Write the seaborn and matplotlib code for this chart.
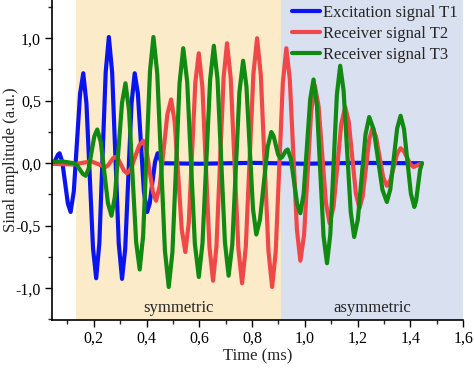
"""Excitation vs receiver signals (tone bursts)."""

import matplotlib

matplotlib.use("Agg")
import matplotlib.pyplot as plt
import pandas as pd
import seaborn as sns
from matplotlib.ticker import FuncFormatter, MultipleLocator

# Excitation signal T1 (peaks, flanks, then flat)
t1_time = [0.045, 0.051, 0.064, 0.070, 0.0805, 0.1015, 0.112, 0.124, 0.148,
           0.160, 0.172, 0.197, 0.209, 0.221, 0.245, 0.257, 0.2695, 0.2945,
           0.307, 0.319, 0.343, 0.355, 0.367, 0.390, 0.402, 0.412, 0.432,
           0.442, 0.446, 0.455, 0.459, 0.60, 0.80, 1.00, 1.20, 1.444]
t1_amp = [0.0, 0.012, 0.068, 0.08, 0.011, -0.321, -0.39, -0.228, 0.558,
          0.72, 0.481, -0.681, -0.92, -0.638, 0.728, 1.01, 0.727, -0.642,
          -0.925, -0.685, 0.480, 0.72, 0.558, -0.228, -0.39, -0.321, 0.011,
          0.08, 0.068, 0.012, 0.0, -0.004, 0.003, -0.004, 0.003, 0.0]

# Receiver signal T2
t2_time = [0.045, 0.120, 0.190, 0.244, 0.2535, 0.2725, 0.282, 0.293, 0.315,
           0.326, 0.341, 0.372, 0.387, 0.399, 0.424, 0.436, 0.450, 0.479,
           0.493, 0.5065, 0.5335, 0.547, 0.560, 0.585, 0.598, 0.6115, 0.6385,
           0.652, 0.665, 0.692, 0.705, 0.719, 0.748, 0.762, 0.776, 0.805,
           0.819, 0.833, 0.862, 0.876, 0.8895, 0.9165, 0.930, 0.943, 0.970,
           0.983, 0.997, 1.024, 1.038, 1.052, 1.080, 1.094, 1.109, 1.138,
           1.153, 1.1665, 1.1935, 1.207, 1.219, 1.244, 1.256, 1.270, 1.297,
           1.311, 1.324, 1.350, 1.363, 1.375, 1.400, 1.412, 1.444]
t2_amp = [-0.005, -0.01, 0.015, -0.03, -0.018, 0.038, 0.05, 0.031, -0.061,
          -0.08, -0.042, 0.142, 0.18, 0.110, -0.230, -0.30, -0.182, 0.392,
          0.51, 0.332, -0.532, -0.71, -0.478, 0.648, 0.88, 0.614, -0.674,
          -0.94, -0.663, 0.683, 0.96, 0.680, -0.680, -0.96, -0.674, 0.714,
          1.00, 0.709, -0.699, -0.99, -0.711, 0.641, 0.92, 0.672, -0.532,
          -0.78, -0.576, 0.416, 0.62, 0.459, -0.319, -0.48, -0.344, 0.314,
          0.45, 0.332, -0.242, -0.36, -0.267, 0.187, 0.28, 0.213, -0.113,
          -0.18, -0.136, 0.076, 0.12, 0.098, -0.008, -0.03, 0.0]

# Receiver signal T3
t3_time = [0.045, 0.080, 0.125, 0.136, 0.158, 0.169, 0.180, 0.202, 0.213,
           0.2265, 0.2535, 0.267, 0.280, 0.307, 0.320, 0.3335, 0.3605, 0.374,
           0.387, 0.413, 0.426, 0.4405, 0.4695, 0.484, 0.498, 0.525, 0.539,
           0.554, 0.583, 0.598, 0.612, 0.641, 0.655, 0.669, 0.697, 0.711,
           0.725, 0.752, 0.766, 0.7785, 0.8035, 0.816, 0.830, 0.859, 0.873,
           0.8815, 0.8985, 0.907, 0.914, 0.928, 0.935, 0.947, 0.971, 0.983,
           0.9955, 1.0205, 1.033, 1.046, 1.071, 1.084, 1.0965, 1.1215, 1.134,
           1.147, 1.174, 1.187, 1.201, 1.230, 1.244, 1.261, 1.294, 1.311,
           1.324, 1.350, 1.363, 1.376, 1.402, 1.415, 1.422, 1.437, 1.444]
t3_amp = [0.01, 0.015, 0.0, -0.015, -0.085, -0.10, -0.046, 0.216, 0.27,
          0.169, -0.319, -0.42, -0.265, 0.485, 0.64, 0.422, -0.632, -0.85,
          -0.578, 0.738, 1.01, 0.718, -0.698, -0.99, -0.711, 0.641, 0.92,
          0.653, -0.643, -0.91, -0.640, 0.670, 0.94, 0.671, -0.631, -0.90,
          -0.649, 0.569, 0.82, 0.617, -0.367, -0.57, -0.450, 0.130, 0.25,
          0.219, 0.071, 0.04, 0.050, 0.100, 0.11, 0.036, -0.326, -0.40,
          -0.244, 0.514, 0.67, 0.455, -0.585, -0.80, -0.569, 0.549, 0.78,
          0.580, -0.390, -0.59, -0.450, 0.230, 0.37, 0.271, -0.211, -0.31,
          -0.209, 0.279, 0.38, 0.273, -0.243, -0.35, -0.299, -0.051, 0.0]

labels = ["Excitation signal T1", "Receiver signal T2", "Receiver signal T3"]
colors = ["#0a14f0", "#f04848", "#118a11"]

# shaded zones
sym_span = (0.134, 0.911)
asym_span = (0.911, 1.6)

df = pd.concat(
    [
        pd.DataFrame({"time": t, "amp": a, "signal": lab})
        for t, a, lab in zip(
            [t1_time, t2_time, t3_time], [t1_amp, t2_amp, t3_amp], labels
        )
    ],
    ignore_index=True,
)

sns.set_style("ticks")
plt.rcParams["font.family"] = ["Liberation Serif", "DejaVu Serif"]
plt.rcParams["font.size"] = 12
plt.rcParams["axes.unicode_minus"] = False

fig = plt.figure(figsize=(4.74, 3.71), dpi=100)
ax = fig.add_axes([0.110, 0.1375, 0.867, 0.8625])

ax.axvspan(*sym_span, color="#fcebc8", lw=0, zorder=0)
ax.axvspan(*asym_span, color="#d9e1f1", lw=0, zorder=0)

sns.lineplot(
    data=df,
    x="time",
    y="amp",
    hue="signal",
    hue_order=labels,
    palette=colors,
    sort=False,
    estimator=None,
    linewidth=3.0,
    ax=ax,
    zorder=2,
)

ax.set_xlim(0.042, 1.6)
ax.set_ylim(-1.254, 1.306)
ax.xaxis.set_major_locator(MultipleLocator(0.2))
ax.xaxis.set_minor_locator(MultipleLocator(0.1))
ax.yaxis.set_major_locator(MultipleLocator(0.5))
ax.yaxis.set_minor_locator(MultipleLocator(0.25))
comma = FuncFormatter(lambda v, _: f"{v:.1f}".replace(".", ","))
ax.xaxis.set_major_formatter(comma)
ax.yaxis.set_major_formatter(comma)
ax.tick_params(which="major", length=5, width=1, labelsize=11.5,
               colors="black", pad=3)
ax.tick_params(which="minor", length=3, width=1)
for side in ("top", "right"):
    ax.spines[side].set_visible(False)
for side in ("left", "bottom"):
    ax.spines[side].set_linewidth(1.2)
    ax.spines[side].set_color("black")

ax.text(sum(sym_span) / 2, -1.16, "symmetric", ha="center", va="center", fontsize=12)
ax.text(sum(asym_span) / 2, -1.16, "asymmetric", ha="center", va="center", fontsize=12)

ax.set_xlabel("Time (ms)", fontsize=12, labelpad=1)
ax.set_ylabel("Sinal amplitude (a.u.)", fontsize=12)
ax.yaxis.set_label_coords(-0.081, 0.5)

ax.legend(
    loc="upper right",
    bbox_to_anchor=(1.0, 1.0),
    frameon=False,
    fontsize=12,
    handlelength=1.7,
    handletextpad=0.2,
    labelspacing=0.3,
    borderaxespad=0.1,
    borderpad=0.2,
)

fig.savefig("out.png", dpi=100)
